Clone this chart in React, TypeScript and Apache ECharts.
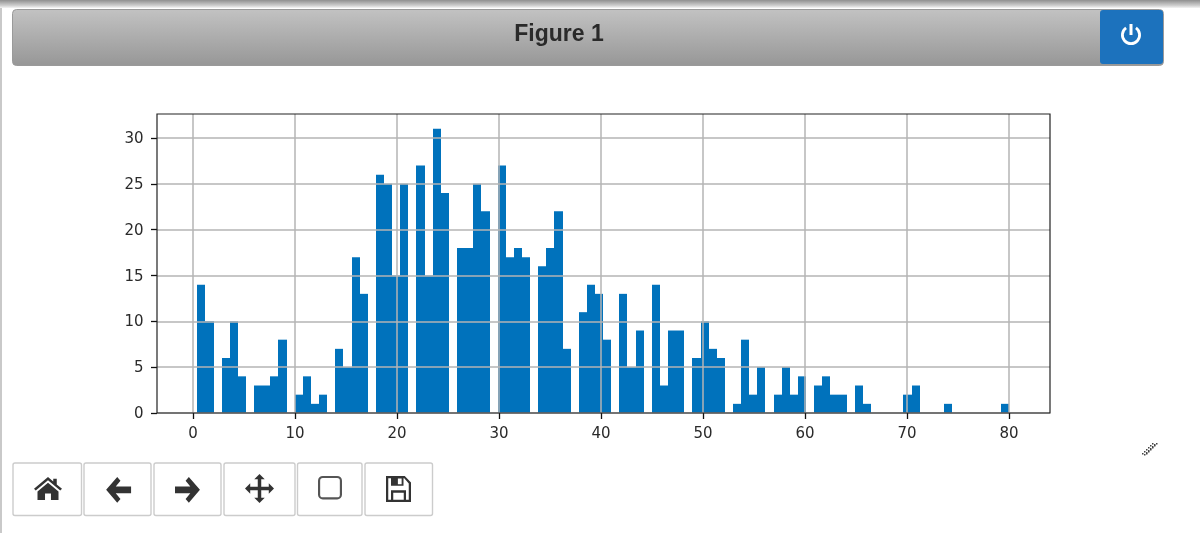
import React, { useEffect, useRef } from "react";
import * as echarts from "echarts";

const binCounts = [
  14, 10, 0, 6, 10, 4, 0, 3, 3, 4, 8, 0, 2, 4, 1, 2, 0, 7, 5, 17,
  13, 0, 26, 25, 15, 25, 0, 27, 15, 31, 24, 0, 18, 18, 25, 22, 0, 27, 17, 18,
  17, 0, 16, 18, 22, 7, 0, 11, 14, 13, 8, 0, 13, 5, 9, 0, 14, 3, 9, 9,
  0, 6, 10, 7, 6, 0, 1, 8, 2, 5, 0, 2, 5, 2, 4, 0, 3, 4, 2, 2,
  0, 3, 1, 0, 0, 0, 0, 2, 3, 0, 0, 0, 1, 0, 0, 0, 0, 0, 0, 1,
];
const firstBinStart = 0.42;
const binWidth = 0.7958;
const xTicks = [0, 10, 20, 30, 40, 50, 60, 70, 80];
const yTicks = [0, 5, 10, 15, 20, 25, 30];
const toolbarIcons = ["home", "back", "forward", "move", "zoom", "save"];

const ICONS: Record<string, string> = {
  home: "M8 0 L11 2.7 V1 H13 V4.5 L16 7.2 L15 8.2 L8 2 L1 8.2 L0 7.2 Z M8 3.5 L14 8.8 V14 H9.7 V10 H6.3 V14 H2 V8.8 Z",
  back: "M7.5 1 L9.5 3 L6.6 6 H16 V9.6 H6.6 L9.5 12.6 L7.5 14.6 L0.7 7.8 Z",
  forward: "M8.5 1 L6.5 3 L9.4 6 H0 V9.6 H9.4 L6.5 12.6 L8.5 14.6 L15.3 7.8 Z",
  move: "M10 0 L13.6 3.6 H11.2 V8.8 H16.4 V6.4 L20 10 L16.4 13.6 V11.2 H11.2 V16.4 H13.6 L10 20 L6.4 16.4 H8.8 V11.2 H3.6 V13.6 L0 10 L3.6 6.4 V8.8 H8.8 V3.6 H6.4 Z",
  zoom: "M4 0 H16 A4 4 0 0 1 20 4 V16 A4 4 0 0 1 16 20 H4 A4 4 0 0 1 0 16 V4 A4 4 0 0 1 4 0 Z M4 1.8 A2.2 2.2 0 0 0 1.8 4 V16 A2.2 2.2 0 0 0 4 18.2 H16 A2.2 2.2 0 0 0 18.2 16 V4 A2.2 2.2 0 0 0 16 1.8 Z",
  save: "M0 0 H15 L20 5 V20 H0 Z M1.8 1.8 V18.2 H4 V11 H16 V18.2 H18.2 V5.8 L14.6 1.8 H14 V7.5 H4 V1.8 Z M5.8 12.8 V18.2 H14.2 V12.8 Z M9.5 2 V6.3 H12.5 V2 Z",
  power: "M8.5 0 H11.5 V11 H8.5 Z M4.26 2.81 A10 10 0 1 0 15.74 2.81 L14.13 5.1 A7.2 7.2 0 1 1 5.87 5.1 Z",
};
Object.keys(ICONS).forEach((k) => {
  echarts.graphic.registerShape("ic_" + k, echarts.graphic.extendPath(ICONS[k] as any, {}));
});

const BTN_X = [13, 84, 154, 224, 297.5, 365];
const BTN_W = [68.5, 67, 67, 71, 64.5, 67.5];
const ICON_BOX: [number, number, number, number][] = [
  [34, 477, 1.75, 1.64],
  [105, 475, 1.63, 1.9],
  [175, 475, 1.63, 1.9],
  [245, 474, 1.45, 1.45],
  [318, 476, 1.2, 1.17],
  [386, 476, 1.25, 1.3],
];

export default function App() {
  const ref = useRef<HTMLDivElement>(null);
  useEffect(() => {
    document.body.style.margin = "0";
    document.body.style.background = "#fff";
    const chart = echarts.init(ref.current!, undefined, { renderer: "svg", width: 1200, height: 533 });
    const gridLine = { show: true, lineStyle: { color: "#b4b4b4", width: 1.5 } };
    const tickLine = { show: true, length: 6, lineStyle: { color: "#111", width: 1.3 } };
    const graphics: any[] = [
      { type: "rect", shape: { x: 0, y: 0, width: 1200, height: 8 },
        style: { fill: new echarts.graphic.LinearGradient(0, 0, 0, 1, [
          { offset: 0, color: "#8f8f8f" }, { offset: 0.7, color: "#d0d0d0" }, { offset: 1, color: "#f4f4f4" } ]) } },
      { type: "rect", shape: { x: 0, y: 8, width: 2, height: 525 }, style: { fill: "#c9c9c9" } },
      { type: "rect", shape: { x: 12.5, y: 9.5, width: 1151, height: 56, r: 4 },
        style: { stroke: "#9a9a9a", lineWidth: 1, fill: new echarts.graphic.LinearGradient(0, 0, 0, 1, [
          { offset: 0, color: "#c2c2c2" }, { offset: 1, color: "#979797" } ]) } },
      { type: "text", x: 559, y: 32.5, style: { text: "Figure 1", fill: "#2a2a2a", font: "bold 23px 'Liberation Sans'", align: "center", verticalAlign: "middle" } },
      { type: "rect", shape: { x: 1100, y: 10, width: 63, height: 54, r: 3 }, style: { fill: "#1c72bd" } },
      { type: "ic_power", x: 1121, y: 24, scaleX: 1, scaleY: 1, style: { fill: "#fff" } },
    ];
    for (let k = 0; k < 6; k++) {
      for (let c = 0; c < 3; c++) {
        graphics.push({ type: "rect", shape: { x: 1152 - 2 * k + 2 * c, y: 443 + 2 * k + (c % 2), width: 1.5, height: 1.5 }, style: { fill: "#444" } });
      }
    }
    toolbarIcons.forEach((name, i) => {
      graphics.push({ type: "rect", shape: { x: BTN_X[i], y: 463, width: BTN_W[i], height: 52.5, r: 2 },
        style: { fill: "#fff", stroke: "#cccccc", lineWidth: 1.4 } });
      const [x, y, sx, sy] = ICON_BOX[i];
      graphics.push({ type: "ic_" + name, x, y, scaleX: sx, scaleY: sy, style: { fill: name === "zoom" ? "#555" : "#333" } });
    });
    chart.setOption({
      animation: false,
      grid: { left: 157, top: 114, width: 893, height: 299, show: false },
      xAxis: {
        type: "value", min: -3.53, max: 84.02, z: 3,
        axisLine: { show: false, onZero: false },
        axisTick: { ...tickLine, customValues: xTicks },
        axisLabel: { customValues: xTicks, color: "#2a2a2a", fontFamily: "DejaVu Sans", fontSize: 15, margin: 12 },
        splitLine: gridLine,
      },
      yAxis: {
        type: "value", min: 0, max: 32.62, z: 3,
        axisLine: { show: false, onZero: false },
        axisTick: { ...tickLine, customValues: yTicks },
        axisLabel: { customValues: yTicks, color: "#2a2a2a", fontFamily: "DejaVu Sans", fontSize: 15, margin: 13.5 },
        splitLine: gridLine,
      },
      graphic: graphics,
      series: [{
        type: "custom",
        coordinateSystem: "cartesian2d",
        z: 1,
        clip: true,
        encode: { x: 0, y: 1 },
        data: binCounts.map((c, i) => [firstBinStart + i * binWidth, c]),
        renderItem: (_: any, api: any) => {
          const x0 = api.value(0), h = api.value(1);
          if (!h) return null;
          const a = api.coord([x0, h]);
          const b = api.coord([x0 + binWidth, 0]);
          const l = Math.round(a[0]), r = Math.round(b[0]);
          return { type: "rect", shape: { x: l, y: a[1], width: r - l, height: b[1] - a[1] }, style: { fill: "#0072bc" } };
        },
      }, {
        type: "custom",
        coordinateSystem: "cartesian2d",
        silent: true,
        z: 5,
        data: [[0, 0]],
        renderItem: (_: any, api: any) => {
          const a = api.coord([-3.53, 32.62]);
          const b = api.coord([84.02, 0]);
          return { type: "rect", shape: { x: a[0], y: a[1], width: b[0] - a[0], height: b[1] - a[1] }, style: { fill: "none", stroke: "#222", lineWidth: 1.2 } };
        },
      }],
    });
    return () => chart.dispose();
  }, []);
  return <div ref={ref} style={{ width: 1200, height: 533, filter: "blur(0.45px)" }} />;
}
